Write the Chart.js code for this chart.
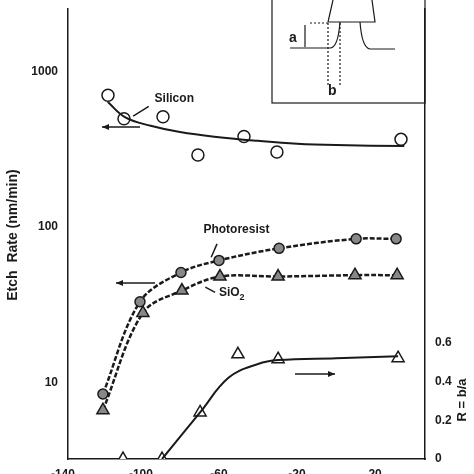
<!DOCTYPE html>
<html><head><meta charset="utf-8">
<script src="https://cdn.jsdelivr.net/npm/chart.js@4/dist/chart.umd.min.js"></script>
<style>html,body{margin:0;padding:0;background:#fff}#w{width:474px;height:474px}</style>
</head><body><div id="w"><canvas id="c"></canvas></div>
<script>
const siliconX=[-116.9,-108.7,-88.7,-70.8,-47.2,-30.3,33.3];
const siliconY=[708,499,514,292,384,305,368];
const siliconFitX=[-117,-108,-95,-80,-60,-40,-20,0,35];
const siliconFitY=[640,510,450,410,380,360,345,338,333];
const resistX=[-119.5,-100.5,-79.5,-60,-29.2,10.3,30.8];
const resistY=[8.4,33,51,61,73,84,84];
const sio2X=[-119.5,-99,-79,-59.5,-29.7,9.7,31.3];
const sio2Y=[6.6,28,39,48,48,49,49];
const rX=[-109.2,-89.2,-69.7,-50.3,-29.7,31.8];
const rY=[0,0,0.24,0.54,0.515,0.52];
const rFitX=[-89.2,-69.7,-55,-40,-29.7,0,31.8];
const rFitY=[0,0.24,0.42,0.49,0.51,0.52,0.53];
const xTicks=[-140,-100,-60,-20,20];
const xTickLabels=["-140","-100","-60","-20","20"];
const yDecades=[10,100,1000];
const rTicks=[0,0.2,0.4,0.6];

const pts=(xs,ys)=>xs.map((x,i)=>({x,y:ys[i]}));
const ink='#1a1a1a';
const F='"Liberation Sans", Arial, sans-serif';

const deco={id:'deco',afterDraw(ch){
  const c=ch.ctx,xs=ch.scales.x,ys=ch.scales.y;
  c.save();c.fillStyle=ink;c.strokeStyle=ink;c.lineWidth=1.5;
  c.font='bold 12px '+F;
  c.fillText('Silicon',xs.getPixelForValue(-93),ys.getPixelForValue(640));
  c.beginPath();c.moveTo(xs.getPixelForValue(-104),ys.getPixelForValue(520));c.lineTo(xs.getPixelForValue(-96),ys.getPixelForValue(600));c.stroke();
  c.fillText('Photoresist',xs.getPixelForValue(-68),ys.getPixelForValue(92));
  c.beginPath();c.moveTo(xs.getPixelForValue(-64),ys.getPixelForValue(64));c.lineTo(xs.getPixelForValue(-61),ys.getPixelForValue(78));c.stroke();
  const sx=xs.getPixelForValue(-60),sy=ys.getPixelForValue(36);
  c.fillText('SiO',sx,sy);c.font='bold 9px '+F;c.fillText('2',sx+c.measureText('SiO').width*1.33,sy+4);
  c.font='bold 12px '+F;
  c.beginPath();c.moveTo(xs.getPixelForValue(-67),ys.getPixelForValue(41));c.lineTo(xs.getPixelForValue(-62),ys.getPixelForValue(38));c.stroke();
  function arrow(x1,x2,y){c.beginPath();c.moveTo(x1,y);c.lineTo(x2,y);c.stroke();const d=x2>x1?-1:1;c.beginPath();c.moveTo(x2,y);c.lineTo(x2+d*7,y-3);c.lineTo(x2+d*7,y+3);c.closePath();c.fill();}
  arrow(140,102,127);arrow(155,116,283);arrow(295,335,374);
  c.lineWidth=1.2;c.strokeRect(272,-2,153,105);
  c.beginPath();c.moveTo(290,48);c.lineTo(330,48);c.quadraticCurveTo(338,48,340,22);c.moveTo(360,22);c.quadraticCurveTo(362,48,370,49);c.lineTo(395,49);c.stroke();
  c.beginPath();c.moveTo(328,22);c.lineTo(333,0);c.moveTo(328,22);c.lineTo(375,22);c.lineTo(372,0);c.stroke();
  c.setLineDash([2,2]);c.beginPath();c.moveTo(310,23);c.lineTo(330,23);c.moveTo(328,23);c.lineTo(328,85);c.moveTo(340,23);c.lineTo(340,85);c.stroke();c.setLineDash([]);
  c.beginPath();c.moveTo(305,25);c.lineTo(305,47);c.stroke();
  c.font='bold 14px '+F;c.fillText('a',289,42);c.fillText('b',328,95);
  c.font='bold 14px '+F;c.translate(17,235);c.rotate(-Math.PI/2);c.textAlign='center';c.fillText('Etch  Rate (nm/min)',0,0);
  c.restore();
  c.save();c.fillStyle=ink;c.font='bold 13px '+F;c.translate(466,400);c.rotate(-Math.PI/2);c.textAlign='center';c.fillText('R = b/a',0,0);c.restore();
}};

new Chart(document.getElementById('c'),{
  type:'scatter',
  data:{datasets:[
    {data:pts(siliconFitX,siliconFitY),showLine:true,pointRadius:0,borderColor:ink,borderWidth:2,tension:0.4,yAxisID:'y'},
    {data:pts(siliconX,siliconY),pointRadius:6,pointStyle:'circle',pointBackgroundColor:'#fff',pointBorderColor:ink,pointBorderWidth:1.5,yAxisID:'y'},
    {data:pts(resistX,resistY),showLine:true,borderDash:[5,2],borderColor:ink,borderWidth:2.5,tension:0.35,pointRadius:5,pointStyle:'circle',pointBackgroundColor:'#888',pointBorderColor:ink,pointBorderWidth:1.5,yAxisID:'y'},
    {data:pts(sio2X,sio2Y),showLine:true,borderDash:[5,2],borderColor:ink,borderWidth:2.5,tension:0.35,pointRadius:7,pointStyle:'triangle',pointBackgroundColor:'#888',pointBorderColor:ink,pointBorderWidth:1.5,yAxisID:'y'},
    {data:pts(rFitX,rFitY),showLine:true,pointRadius:0,borderColor:ink,borderWidth:2,tension:0.4,yAxisID:'yR'},
    {data:pts(rX,rY),pointRadius:7,pointStyle:'triangle',pointBackgroundColor:'#fff',pointBorderColor:ink,pointBorderWidth:1.5,yAxisID:'yR'}
  ]},
  options:{animation:false,responsive:true,maintainAspectRatio:false,
    layout:{padding:0},
    plugins:{legend:{display:false},tooltip:{enabled:false}},
    scales:{
      x:{type:'linear',min:-137.4,max:45.6,grid:{display:false},border:{color:ink,width:1.5},
        afterBuildTicks:s=>{s.ticks=xTicks.map(v=>({value:v}));},
        afterFit:s=>{s.height=15;},
        ticks:{color:ink,font:{family:F,size:12,weight:'bold'},padding:0,callback:(v)=>xTickLabels[xTicks.indexOf(v)]}},
      y:{type:'logarithmic',position:'left',min:3.2,max:2540,grid:{display:false},border:{color:ink,width:1.5},
        afterBuildTicks:s=>{const t=[];for(const d of [1,10,100,1000])for(let k=1;k<10;k++){const v=d*k;if(v>=3.2&&v<=2540)t.push({value:v});}s.ticks=t;},
        afterFit:s=>{s.width=68;},
        ticks:{autoSkip:false,color:ink,font:{family:F,size:12,weight:'bold'},padding:2,callback:v=>yDecades.includes(v)?String(v):''}},
      yR:{type:'linear',position:'right',min:0,max:2.32,grid:{display:false},border:{color:ink,width:1.5},
        afterBuildTicks:s=>{s.ticks=rTicks.map(v=>({value:v}));},
        afterFit:s=>{s.width=49;},
        ticks:{color:ink,font:{family:F,size:12,weight:'bold'},padding:2,callback:v=>v===0?'0':v.toFixed(1)}}
    }},
  plugins:[deco]
});
</script></body></html>
